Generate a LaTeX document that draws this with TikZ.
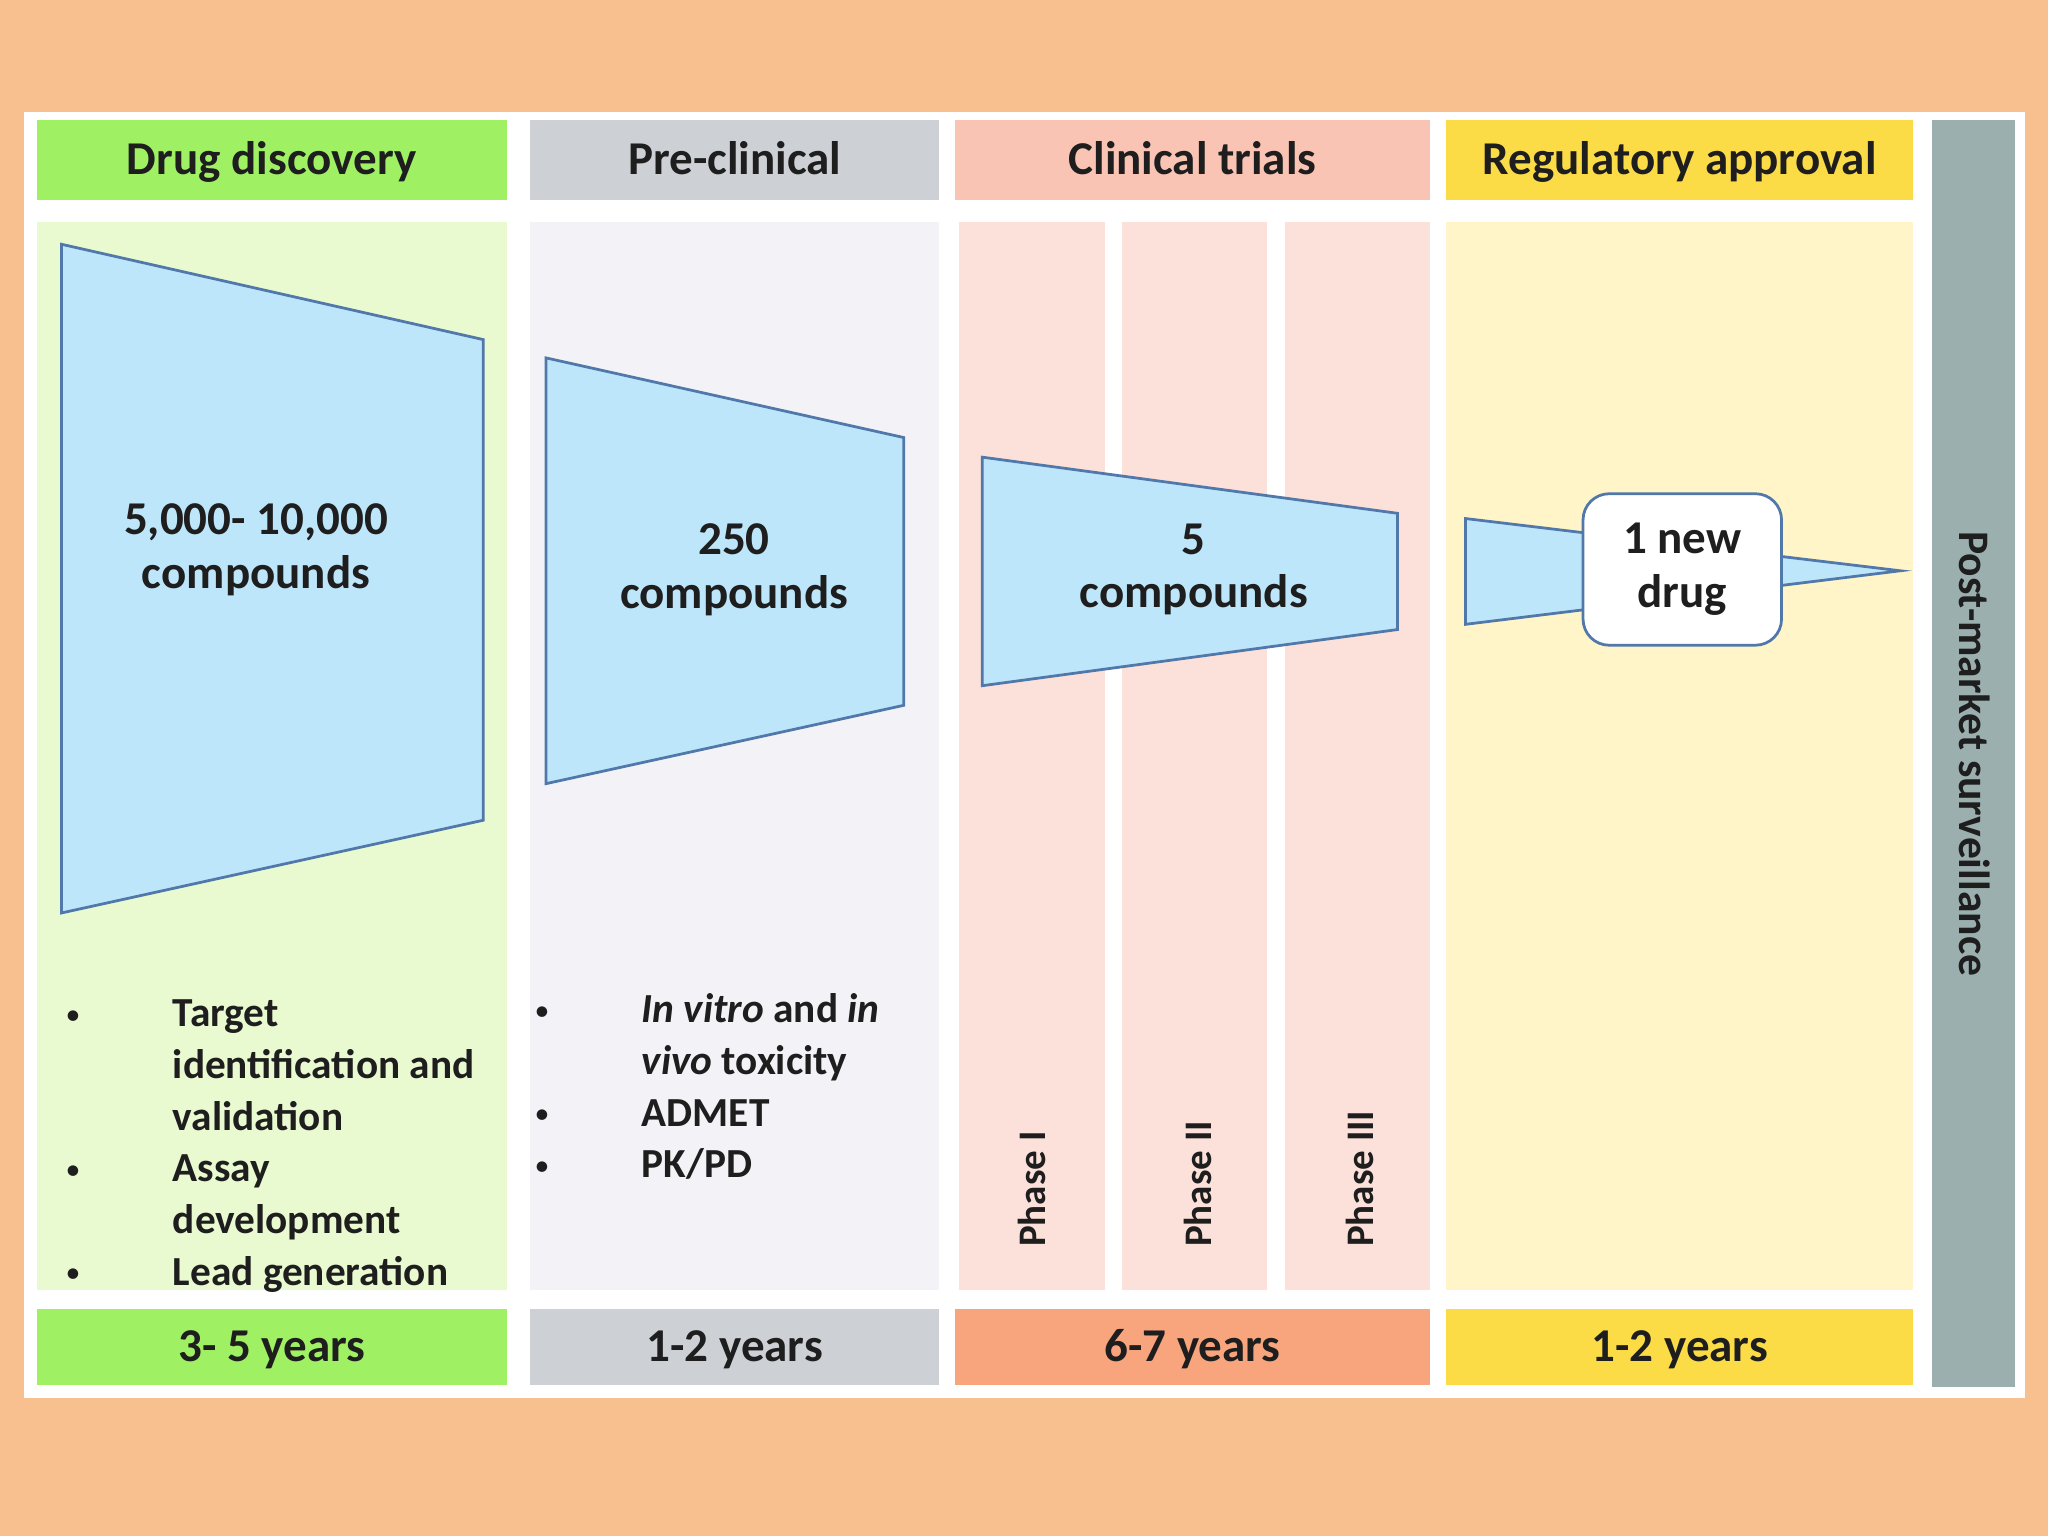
\documentclass[tikz,border=0pt]{standalone}
\usepackage{fontspec}
\setmainfont{Carlito}
\definecolor{bgorange}{RGB}{249,192,143}
\definecolor{ink}{RGB}{30,30,30}
\definecolor{ddhead}{RGB}{160,240,100}
\definecolor{ddbody}{RGB}{233,249,208}
\definecolor{pchead}{RGB}{205,208,212}
\definecolor{pcbody}{RGB}{243,243,247}
\definecolor{cthead}{RGB}{250,196,180}
\definecolor{ctfoot}{RGB}{248,165,125}
\definecolor{ctbody}{RGB}{252,225,218}
\definecolor{rahead}{RGB}{252,220,70}
\definecolor{rabody}{RGB}{255,245,200}
\definecolor{pmcol}{RGB}{155,175,175}
\definecolor{funfill}{RGB}{190,230,250}
\definecolor{funline}{RGB}{80,120,170}
\newcommand\bigfont{\fontsize{20.5}{23.5}\selectfont\bfseries}
\newcommand\itemfont{\fontsize{18}{22}\selectfont\bfseries}
\tikzset{
  lbl/.style={font=\bigfont,text=ink,inner sep=0pt,text height=13pt,text depth=0pt},
  count/.style={font=\bigfont,text=ink,align=center,inner sep=0pt},
  item/.style={font=\itemfont,text=ink,inner sep=0pt,anchor=base west},
  dot/.style={font=\fontsize{13}{16}\selectfont,text=ink,inner sep=0pt,anchor=base},
  phase/.style={font=\fontsize{17}{20}\selectfont\bfseries,text=ink,inner sep=0pt,rotate=90,anchor=west},
  funnel/.style={fill=funfill,draw=funline,line width=1.2pt,line join=miter}
}
\begin{document}
\begin{tikzpicture}[x=0.02cm,y=-0.02cm]
\useasboundingbox (0,0) rectangle (1568,1176);
\fill[bgorange] (0,0) rectangle (1568,1176);
\fill[white] (18,86) rectangle (1550,1070);
% headers
\path[fill=ddhead] (28,92) rectangle node[lbl] (hdd) {Drug discovery} (388,153);
\path[fill=pchead] (406,92) rectangle node[lbl] (hpc) {Pre-clinical} (719,153);
\path[fill=cthead] (731,92) rectangle node[lbl] (hct) {Clinical trials} (1095,153);
\path[fill=rahead] (1107,92) rectangle node[lbl] (hra) {Regulatory approval} (1465,153);
% body panels
\fill[ddbody] (28,170) rectangle (388,988);
\fill[pcbody] (406,170) rectangle (719,988);
\foreach \a/\b/\n in {734/846/I,859/970/II,984/1095/III}
  \path[fill=ctbody] (\a,170) rectangle (\b,988);
\fill[rabody] (1107,170) rectangle (1465,988);
% post-market column
\path[fill=pmcol] (1479,92) rectangle node[lbl,rotate=-90,font=\fontsize{19}{22}\selectfont\bfseries,text height=12pt] (pm) {Post-market surveillance} (1543,1062);
% footers
\path[fill=ddhead] (28,1002) rectangle node[lbl] (fdd) {3- 5 years} (388,1060);
\path[fill=pchead] (406,1002) rectangle node[lbl] (fpc) {1-2 years} (719,1060);
\path[fill=ctfoot] (731,1002) rectangle node[lbl] (fct) {6-7 years} (1095,1060);
\path[fill=rahead] (1107,1002) rectangle node[lbl] (fra) {1-2 years} (1465,1060);
% funnels
\draw[funnel] (47,187) -- (370,260) -- (370,628) -- (47,699) -- cycle;
\draw[funnel] (418,274) -- (692,335) -- (692,540) -- (418,600) -- cycle;
\draw[funnel] (752,350) -- (1070,393) -- (1070,482) -- (752,525) -- cycle;
\draw[funnel] (1122,397) -- (1455,437) -- (1122,478) -- cycle;
\node[count] (n1) at (196,421) {5,000- 10,000\\compounds};
\node[count] (n2) at (562,436) {250\\compounds};
\node[count] (n3) at (914,436) {5\\compounds};
\node[count,draw=funline,line width=1.2pt,fill=white,rounded corners=0.4cm,
  minimum width=3.04cm,minimum height=2.32cm] (n4) at (1288,436) {1 new\\drug};
% phases
\node[phase] (p1) at (790,955) {Phase I};
\node[phase] (p2) at (917,955) {Phase II};
\node[phase] (p3) at (1041,955) {Phase III};
% bullet lists
\foreach \t [count=\i] in {Target,identification and,validation,Assay,development,Lead generation}
  \node[item] (dd\i) at (132,{786+(\i-1)*39.6}) {\t};
\foreach \i in {1,4,6}
  \node[dot] (bd\i) at (56,{784+(\i-1)*39.6}) {•};
\foreach \t [count=\i] in {{\itshape In vitro} and {\itshape in},{\itshape vivo} toxicity,ADMET,PK/PD}
  \node[item] (pc\i) at (491,{783+(\i-1)*39.6}) {\t};
\foreach \i in {1,3,4}
  \node[dot] (bp\i) at (415,{781+(\i-1)*39.6}) {•};
\end{tikzpicture}
\end{document}
